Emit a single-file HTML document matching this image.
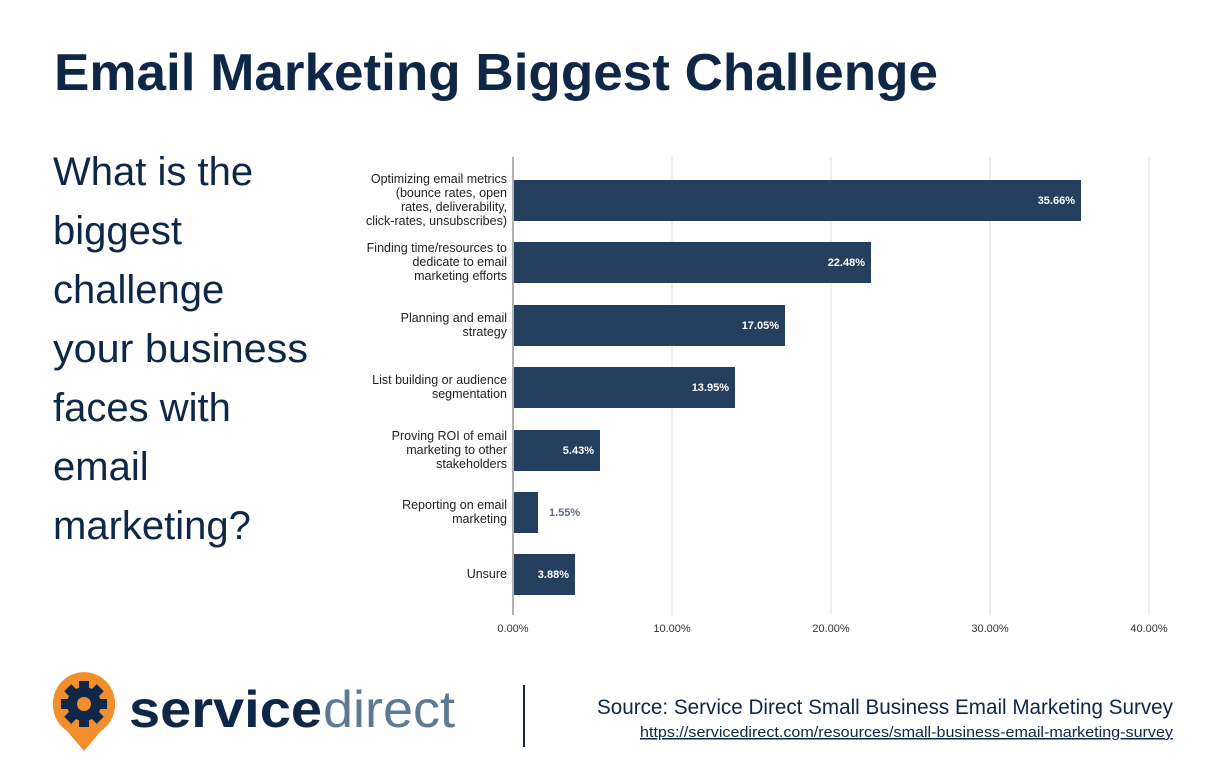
<!DOCTYPE html>
<html><head><meta charset="utf-8"><style>html,body{margin:0;padding:0;background:#fff}svg{display:block}</style></head>
<body>
<svg width="1224" height="768" viewBox="0 0 1224 768" xmlns="http://www.w3.org/2000/svg" font-family="Liberation Sans, sans-serif">
<rect width="1224" height="768" fill="#fff"/>
<text x="54" y="90" font-size="52" font-weight="bold" fill="#0f2747" textLength="884" lengthAdjust="spacingAndGlyphs">Email Marketing Biggest Challenge</text>
<g font-size="40" fill="#0f2747">
<text x="53" y="185">What is the</text>
<text x="53" y="244">biggest</text>
<text x="53" y="303">challenge</text>
<text x="53" y="362" textLength="255" lengthAdjust="spacingAndGlyphs">your business</text>
<text x="53" y="421">faces with</text>
<text x="53" y="480">email</text>
<text x="53" y="539">marketing?</text>
</g>
<g stroke="#dcdcdc" stroke-width="1">
<line x1="672" y1="157" x2="672" y2="615"/><line x1="831" y1="157" x2="831" y2="615"/><line x1="990" y1="157" x2="990" y2="615"/><line x1="1149" y1="157" x2="1149" y2="615"/>
</g>
<line x1="513" y1="157" x2="513" y2="615" stroke="#999" stroke-width="1.5"/>
<g fill="#253f5f">
<rect x="514" y="180" width="567" height="41"/>
<rect x="514" y="242" width="357" height="41"/>
<rect x="514" y="305" width="271" height="41"/>
<rect x="514" y="367" width="221" height="41"/>
<rect x="514" y="430" width="86" height="41"/>
<rect x="514" y="492" width="24" height="41"/>
<rect x="514" y="554" width="61" height="41"/>
</g>
<g font-size="11" font-weight="bold" fill="#fff" text-anchor="end">
<text x="1075" y="204">35.66%</text>
<text x="865" y="266">22.48%</text>
<text x="779" y="329">17.05%</text>
<text x="729" y="391">13.95%</text>
<text x="594" y="454">5.43%</text>
<text x="569" y="578">3.88%</text>
</g>
<text x="549" y="516" font-size="11" font-weight="bold" fill="#5d6f85">1.55%</text>
<g font-size="12.5" fill="#222" text-anchor="end">
<text x="507" y="183">Optimizing email metrics</text>
<text x="507" y="197">(bounce rates, open</text>
<text x="507" y="211">rates, deliverability,</text>
<text x="507" y="225">click-rates, unsubscribes)</text>
<text x="507" y="252">Finding time/resources to</text>
<text x="507" y="266">dedicate to email</text>
<text x="507" y="280">marketing efforts</text>
<text x="507" y="322">Planning and email</text>
<text x="507" y="336">strategy</text>
<text x="507" y="384">List building or audience</text>
<text x="507" y="398">segmentation</text>
<text x="507" y="440">Proving ROI of email</text>
<text x="507" y="454">marketing to other</text>
<text x="507" y="468">stakeholders</text>
<text x="507" y="509">Reporting on email</text>
<text x="507" y="523">marketing</text>
<text x="507" y="578">Unsure</text>
</g>
<g font-size="11" fill="#333" text-anchor="middle">
<text x="513" y="632">0.00%</text><text x="672" y="632">10.00%</text><text x="831" y="632">20.00%</text><text x="990" y="632">30.00%</text><text x="1149" y="632">40.00%</text>
</g>
<path d="M84 751 L62 725 A31 31 0 1 1 106 725 Z" fill="#f08f2c"/>
<circle cx="84" cy="705" r="31" fill="#f08f2c"/>
<g fill="#0f2747" transform="translate(84 704)">
<circle r="17"/>
<g><rect x="-5" y="-23" width="10" height="46"/><rect x="-23" y="-5" width="46" height="10"/>
<rect x="-5" y="-23" width="10" height="46" transform="rotate(45)"/><rect x="-5" y="-23" width="10" height="46" transform="rotate(-45)"/></g>
<circle r="7" fill="#f08f2c"/>
</g>
<text x="129" y="727" font-size="52" font-weight="bold" fill="#0f2747" textLength="193" lengthAdjust="spacingAndGlyphs">service</text>
<text x="323" y="727" font-size="52" fill="#5e7896" textLength="132" lengthAdjust="spacingAndGlyphs">direct</text>
<line x1="524" y1="685" x2="524" y2="747" stroke="#0f2747" stroke-width="2"/>
<text x="1173" y="714" font-size="21" fill="#0f2747" text-anchor="end" textLength="576" lengthAdjust="spacingAndGlyphs">Source: Service Direct Small Business Email Marketing Survey</text>
<text x="1173" y="737" font-size="15" fill="#0f2747" text-anchor="end" text-decoration="underline" textLength="533" lengthAdjust="spacingAndGlyphs">https://servicedirect.com/resources/small-business-email-marketing-survey</text>
</svg>
</body></html>
